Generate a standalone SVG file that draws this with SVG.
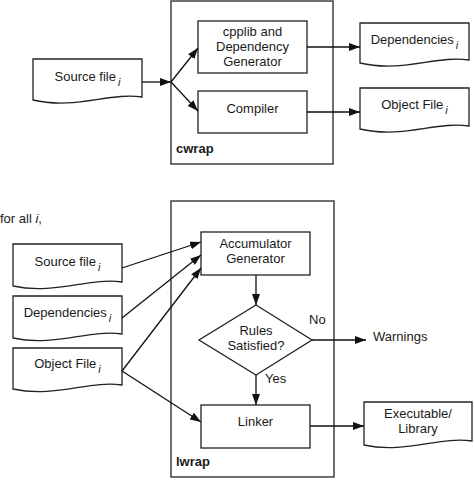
<svg xmlns="http://www.w3.org/2000/svg" width="474" height="480" viewBox="0 0 474 480">
<style>
text{font-family:"Liberation Sans",Arial,Helvetica,sans-serif;font-size:13px;fill:#1a1a1a}
.c{text-anchor:middle}
.b{font-weight:bold}
.sub{font-size:11px;font-style:italic}
.box{fill:#fff;stroke:#222;stroke-width:1.3}
.frame{fill:none;stroke:#333;stroke-width:1.4}
.ln{fill:none;stroke:#111;stroke-width:1.3;marker-end:url(#ah)}
</style>
<defs>
<marker id="ah" viewBox="0 0 11 8" refX="11" refY="4" markerWidth="11" markerHeight="8" markerUnits="userSpaceOnUse" orient="auto">
<path d="M0,0 L11,4 L0,8 Z" fill="#111"/>
</marker>
</defs>
<rect width="474" height="480" fill="#fff"/>

<g id="cwrap">
<rect class="frame" x="171" y="1" width="162" height="163"/>
<text class="b" x="176" y="153">cwrap</text>
</g>
<g id="lwrap">
<rect class="frame" x="171" y="201" width="163" height="276"/>
<text class="b" x="176" y="466">lwrap</text>
</g>

<g id="src-top">
<path class="box" d="M33,59 H142 V97 C110,92 75,110 33,100 Z"/>
<text class="c" x="87.5" y="81">Source file<tspan class="sub" dx="2" dy="5">i</tspan></text>
</g>
<g id="cpplib">
<rect class="box" x="198" y="21" width="109" height="52"/>
<text class="c" x="252.5" y="36">cpplib and</text>
<text class="c" x="252.5" y="51">Dependency</text>
<text class="c" x="252.5" y="66">Generator</text>
</g>
<g id="compiler">
<rect class="box" x="198" y="91" width="109" height="42"/>
<text class="c" x="252.5" y="113">Compiler</text>
</g>
<g id="dep-top">
<path class="box" d="M360,23 H469 V60 C437,55 402,73 360,63 Z"/>
<text class="c" x="414.5" y="44">Dependencies<tspan class="sub" dx="2" dy="5">i</tspan></text>
</g>
<g id="obj-top">
<path class="box" d="M360,88 H469 V126 C437,121 402,139 360,129 Z"/>
<text class="c" x="414.5" y="109">Object File<tspan class="sub" dx="2" dy="5">i</tspan></text>
</g>

<g id="forall">
<text x="0" y="223">for all <tspan font-style="italic">i</tspan>,</text>
</g>
<g id="src-bot">
<path class="box" d="M13,244 H122 V282 C90,277 55,295 13,286 Z"/>
<text class="c" x="67.5" y="266">Source file<tspan class="sub" dx="2" dy="5">i</tspan></text>
</g>
<g id="dep-bot">
<path class="box" d="M13,296 H122 V334 C90,329 55,347 13,338 Z"/>
<text class="c" x="67.5" y="317">Dependencies<tspan class="sub" dx="2" dy="5">i</tspan></text>
</g>
<g id="obj-bot">
<path class="box" d="M13,348 H122 V385 C90,380 55,398 13,389 Z"/>
<text class="c" x="67.5" y="368">Object File<tspan class="sub" dx="2" dy="5">i</tspan></text>
</g>
<g id="accum">
<rect class="box" x="201" y="232" width="109" height="43"/>
<text class="c" x="255.5" y="248">Accumulator</text>
<text class="c" x="255.5" y="263">Generator</text>
</g>
<g id="rules">
<path class="box" d="M256,305 L312,340 L256,375 L199,340 Z"/>
<text class="c" x="256" y="335">Rules</text>
<text class="c" x="256" y="350">Satisfied?</text>
</g>
<g id="linker">
<rect class="box" x="201" y="405" width="109" height="43"/>
<text class="c" x="255.5" y="426">Linker</text>
</g>
<g id="warnings">
<text x="373" y="341">Warnings</text>
</g>
<g id="exe">
<path class="box" d="M364,402 H472 V441 C440,436 405,454 364,445 Z"/>
<text class="c" x="418" y="418">Executable/</text>
<text class="c" x="418" y="433">Library</text>
</g>

<g id="connectors">
<line class="ln" x1="142" y1="82" x2="171" y2="82"/>
<line class="ln" x1="171" y1="82" x2="198" y2="48"/>
<line class="ln" x1="171" y1="82" x2="198" y2="111"/>
<line class="ln" x1="307" y1="47" x2="360" y2="47"/>
<line class="ln" x1="307" y1="112" x2="360" y2="112"/>
<line class="ln" x1="122" y1="268" x2="201" y2="242"/>
<line class="ln" x1="122" y1="318" x2="201" y2="255"/>
<line class="ln" x1="122" y1="371" x2="201" y2="268"/>
<line class="ln" x1="122" y1="371" x2="201" y2="422"/>
<line class="ln" x1="256" y1="275" x2="256" y2="305"/>
<line class="ln" x1="312" y1="340" x2="366" y2="340"/>
<line class="ln" x1="256" y1="375" x2="256" y2="405"/>
<line class="ln" x1="310" y1="426" x2="364" y2="426"/>
<text x="309" y="324">No</text>
<text x="265" y="383">Yes</text>
</g>
</svg>
